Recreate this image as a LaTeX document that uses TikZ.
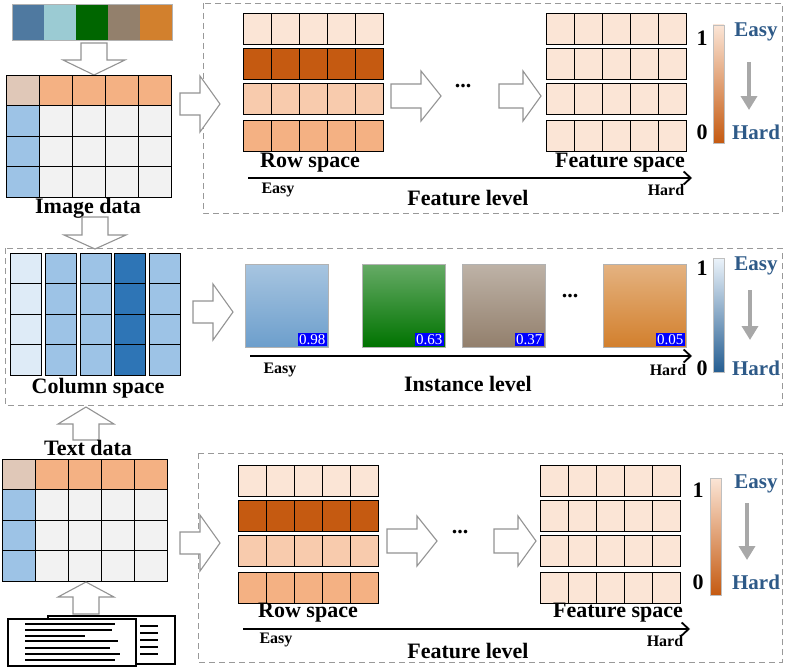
\documentclass[tikz,border=0pt]{standalone}
\usepackage{fontspec}
\setmainfont{Liberation Serif}
\usetikzlibrary{arrows.meta}
\definecolor{o1}{HTML}{FBE5D6}
\definecolor{o2}{HTML}{C55A11}
\definecolor{o3}{HTML}{F8CBAD}
\definecolor{o4}{HTML}{F4B183}
\definecolor{corner}{HTML}{E0C8B8}
\definecolor{b1}{HTML}{DEEBF7}
\definecolor{b2}{HTML}{9DC3E6}
\definecolor{b3}{HTML}{2E75B6}
\definecolor{cellg}{HTML}{F2F2F2}
\definecolor{navy}{HTML}{2E5A88}
\definecolor{dgray}{HTML}{A8A8A8}
\tikzset{
 barrow/.style={draw=gray!85, line width=1.1pt, fill=white, line join=miter},
 dbox/.style={draw=gray!80, line width=0.9pt, dash pattern=on 6pt off 4pt},
 big/.style={font=\fontsize{22}{23}\selectfont\bfseries},
 small/.style={font=\fontsize{16}{17}\selectfont\bfseries},
 lab/.style={font=\fontsize{21}{22}\selectfont\bfseries, text=navy},
 num/.style={font=\fontsize{15}{16}\selectfont, text=white, fill=blue, inner sep=1.5pt, anchor=south east},
 cellst/.style={draw=black, line width=0.8pt},
 axis/.style={line width=1.8pt, -{Straight Barb[length=7pt,width=13pt]}},
 dots/.style={font=\fontsize{22}{22}\selectfont\bfseries},
}
\newcommand{\blk}[7]{\draw[barrow, shift={(#1,#2)}, rotate=#3]
 (0,-#5) -- (#4-#7,-#5) -- (#4-#7,-#6) -- (#4,0) -- (#4-#7,#6) -- (#4-#7,#5) -- (0,#5) -- cycle;}
\newcommand{\rowcells}[5]{%
 \foreach \i in {0,...,4}{\fill[#5] (#1+\i*#3/5,#2) rectangle ++(#3/5,#4);
 \draw[cellst] (#1+\i*#3/5,#2) rectangle ++(#3/5,#4);}}
\newcommand{\datatable}[3]{%
 \foreach \r in {0,...,3}{\foreach \c in {0,...,4}{
  \ifnum\r=0 \ifnum\c=0 \def\cc{corner}\else\def\cc{o4}\fi\else\ifnum\c=0 \def\cc{b2}\else\def\cc{cellg}\fi\fi
  \fill[\cc] (#1+\c*33,#2+\r*30.5) rectangle ++(33,30.5);
  \draw[cellst] (#1+\c*33,#2+\r*30.5) rectangle ++(33,30.5);}}
 \coordinate (#3) at (#1+82.5,#2+61);}
\begin{document}
\begin{tikzpicture}[x=1pt,y=-1pt]
\useasboundingbox (0,0) rectangle (790,669);
% ---------- top panel
\foreach \x/\c in {12/b3!60!gray,44/b1!70!teal,76/green!40!black,108/gray!70!brown,140/brown!70!orange}
 {\fill[\c] (\x,5) rectangle ++(32,36);}
\draw[gray!60,line width=1pt] (12,5) rectangle (172,41);
\blk{94}{43}{-90}{32}{13}{31}{15}
\datatable{6}{75}{imgt}
\node[big] (imglab) at (88,208) {Image data};
\draw[dbox] (203,3) rectangle (782,213);
\blk{180}{104}{0}{40}{11}{28}{20}
\foreach \y/\c in {13/o1,48/o2,83/o3,120/o4}{\rowcells{243}{\y}{140}{31}{\c}}
\foreach \y in {13,48,83,120}{\rowcells{546}{\y}{140}{31}{o1}}
\blk{391}{96}{0}{50}{12}{25}{20}
\node[dots] (d1) at (463,86) {...};
\blk{499}{96}{0}{42}{12}{25}{18}
\node[big] (rs1) at (310,163) {Row space};
\node[big] (fs1) at (620,163) {Feature space};
\coordinate (ax1s) at (248,178); \coordinate (ax1e) at (692,178);
\draw[axis] (ax1s) -- (ax1e);
\node[small] (e1) at (278,190) {Easy};
\node[small] (h1) at (666,190) {Hard};
\node[big] (fl1) at (468,198) {Feature level};
\shade[top color=o1, bottom color=o2] (713,25) rectangle (724,143);
\draw[gray!50] (713,25) rectangle (724,143);
\node[big] (one1) at (702,38) {1};
\node[big] (zero1) at (702,132) {0};
\node[lab] (ez1) at (756,32) {Easy};
\node[lab] (hd1) at (756,132) {Hard};
\draw[dgray, line width=4.5pt, -{Triangle[length=14pt,width=16pt]}] (749,62) -- (749,110);
% ---------- middle panel
\blk{95}{217}{-90}{32}{13}{31}{14}
\draw[dbox] (5,248) rectangle (782,405);
\foreach \x/\c in {10/b1,45/b2,80/b2,114/b3,149/b2}{
 \foreach \r in {0,...,3}{\fill[\c] (\x,253+\r*30.5) rectangle ++(31,30.5); \draw[cellst] (\x,253+\r*30.5) rectangle ++(31,30.5);}}
\node[big] (cs) at (98,388) {Column space};
\blk{193}{312}{0}{40}{11}{28}{20}
\foreach \x/\t/\c/\n in {245/0.98/b3!70!white/p1,362/0.63/green!45!black/p2,462/0.37/gray!70!brown/p3,603/0.05/brown!70!orange/p4}{
 \shade[top color=\c!60!white, bottom color=\c] (\x,264) rectangle ++(83,83);
 \draw[gray!60,line width=1pt] (\x,264) rectangle ++(83,83);
 \node[num] (\n) at (\x+82,346) {\t};}
\node[dots] (d2) at (570,296) {...};
\coordinate (ax2s) at (250,356); \coordinate (ax2e) at (692,356);
\draw[axis] (ax2s) -- (ax2e);
\node[small] (e2) at (280,370) {Easy};
\node[small] (h2) at (668,370) {Hard};
\node[big] (il) at (468,384) {Instance level};
\shade[top color=b1!60!white, bottom color=b3!80!black] (713,258) rectangle (724,372);
\draw[gray!50] (713,258) rectangle (724,372);
\node[big] (one2) at (702,268) {1};
\node[big] (zero2) at (702,368) {0};
\node[lab] (ez2) at (756,266) {Easy};
\node[lab] (hd2) at (756,368) {Hard};
\draw[dgray, line width=4.5pt, -{Triangle[length=14pt,width=16pt]}] (750,290) -- (750,340);
% ---------- bottom panel
\blk{86}{440}{90}{33}{13}{28}{17}
\node[big] (td) at (88,448) {Text data};
\datatable{2}{459}{txtt}
\blk{86}{614}{90}{32}{13}{28}{15}
\draw[line width=2.5pt, fill=white] (48,616) rectangle (175,664);
\draw[line width=2.5pt, fill=white] (8,619) rectangle (136,666);
\foreach \y in {626,633,640,647,654}{\draw[line width=1.5pt] (140,\y) -- (158,\y);}
\foreach \y/\a/\b in {624/25/115,630/25/112,636/25/85,641/25/118,648/25/110,654/25/120,660/25/115}{\draw[line width=1.5pt] (\a,\y) -- (\b,\y);}
\draw[dbox] (198,453) rectangle (782,662);
\blk{180}{543}{0}{40}{11}{28}{20}
\foreach \y/\c in {465/o1,500/o2,535/o3,572/o4}{\rowcells{238}{\y}{140}{31}{\c}}
\foreach \y in {465,500,535,572}{\rowcells{540}{\y}{140}{31}{o1}}
\blk{387}{541}{0}{50}{12}{25}{20}
\node[dots] (d3) at (460,532) {...};
\blk{494}{541}{0}{42}{12}{25}{18}
\node[big] (rs3) at (308,613) {Row space};
\node[big] (fs3) at (618,613) {Feature space};
\coordinate (ax3s) at (243,629); \coordinate (ax3e) at (690,629);
\draw[axis] (ax3s) -- (ax3e);
\node[small] (e3) at (276,640) {Easy};
\node[small] (h3) at (665,641) {Hard};
\node[big] (fl3) at (468,651) {Feature level};
\shade[top color=o1, bottom color=o2] (710,478) rectangle (721,595);
\draw[gray!50] (710,478) rectangle (721,595);
\node[big] (one3) at (698,490) {1};
\node[big] (zero3) at (698,582) {0};
\node[lab] (ez3) at (756,484) {Easy};
\node[lab] (hd3) at (756,582) {Hard};
\draw[dgray, line width=4.5pt, -{Triangle[length=14pt,width=16pt]}] (747,503) -- (747,560);
\end{tikzpicture}
\end{document}
